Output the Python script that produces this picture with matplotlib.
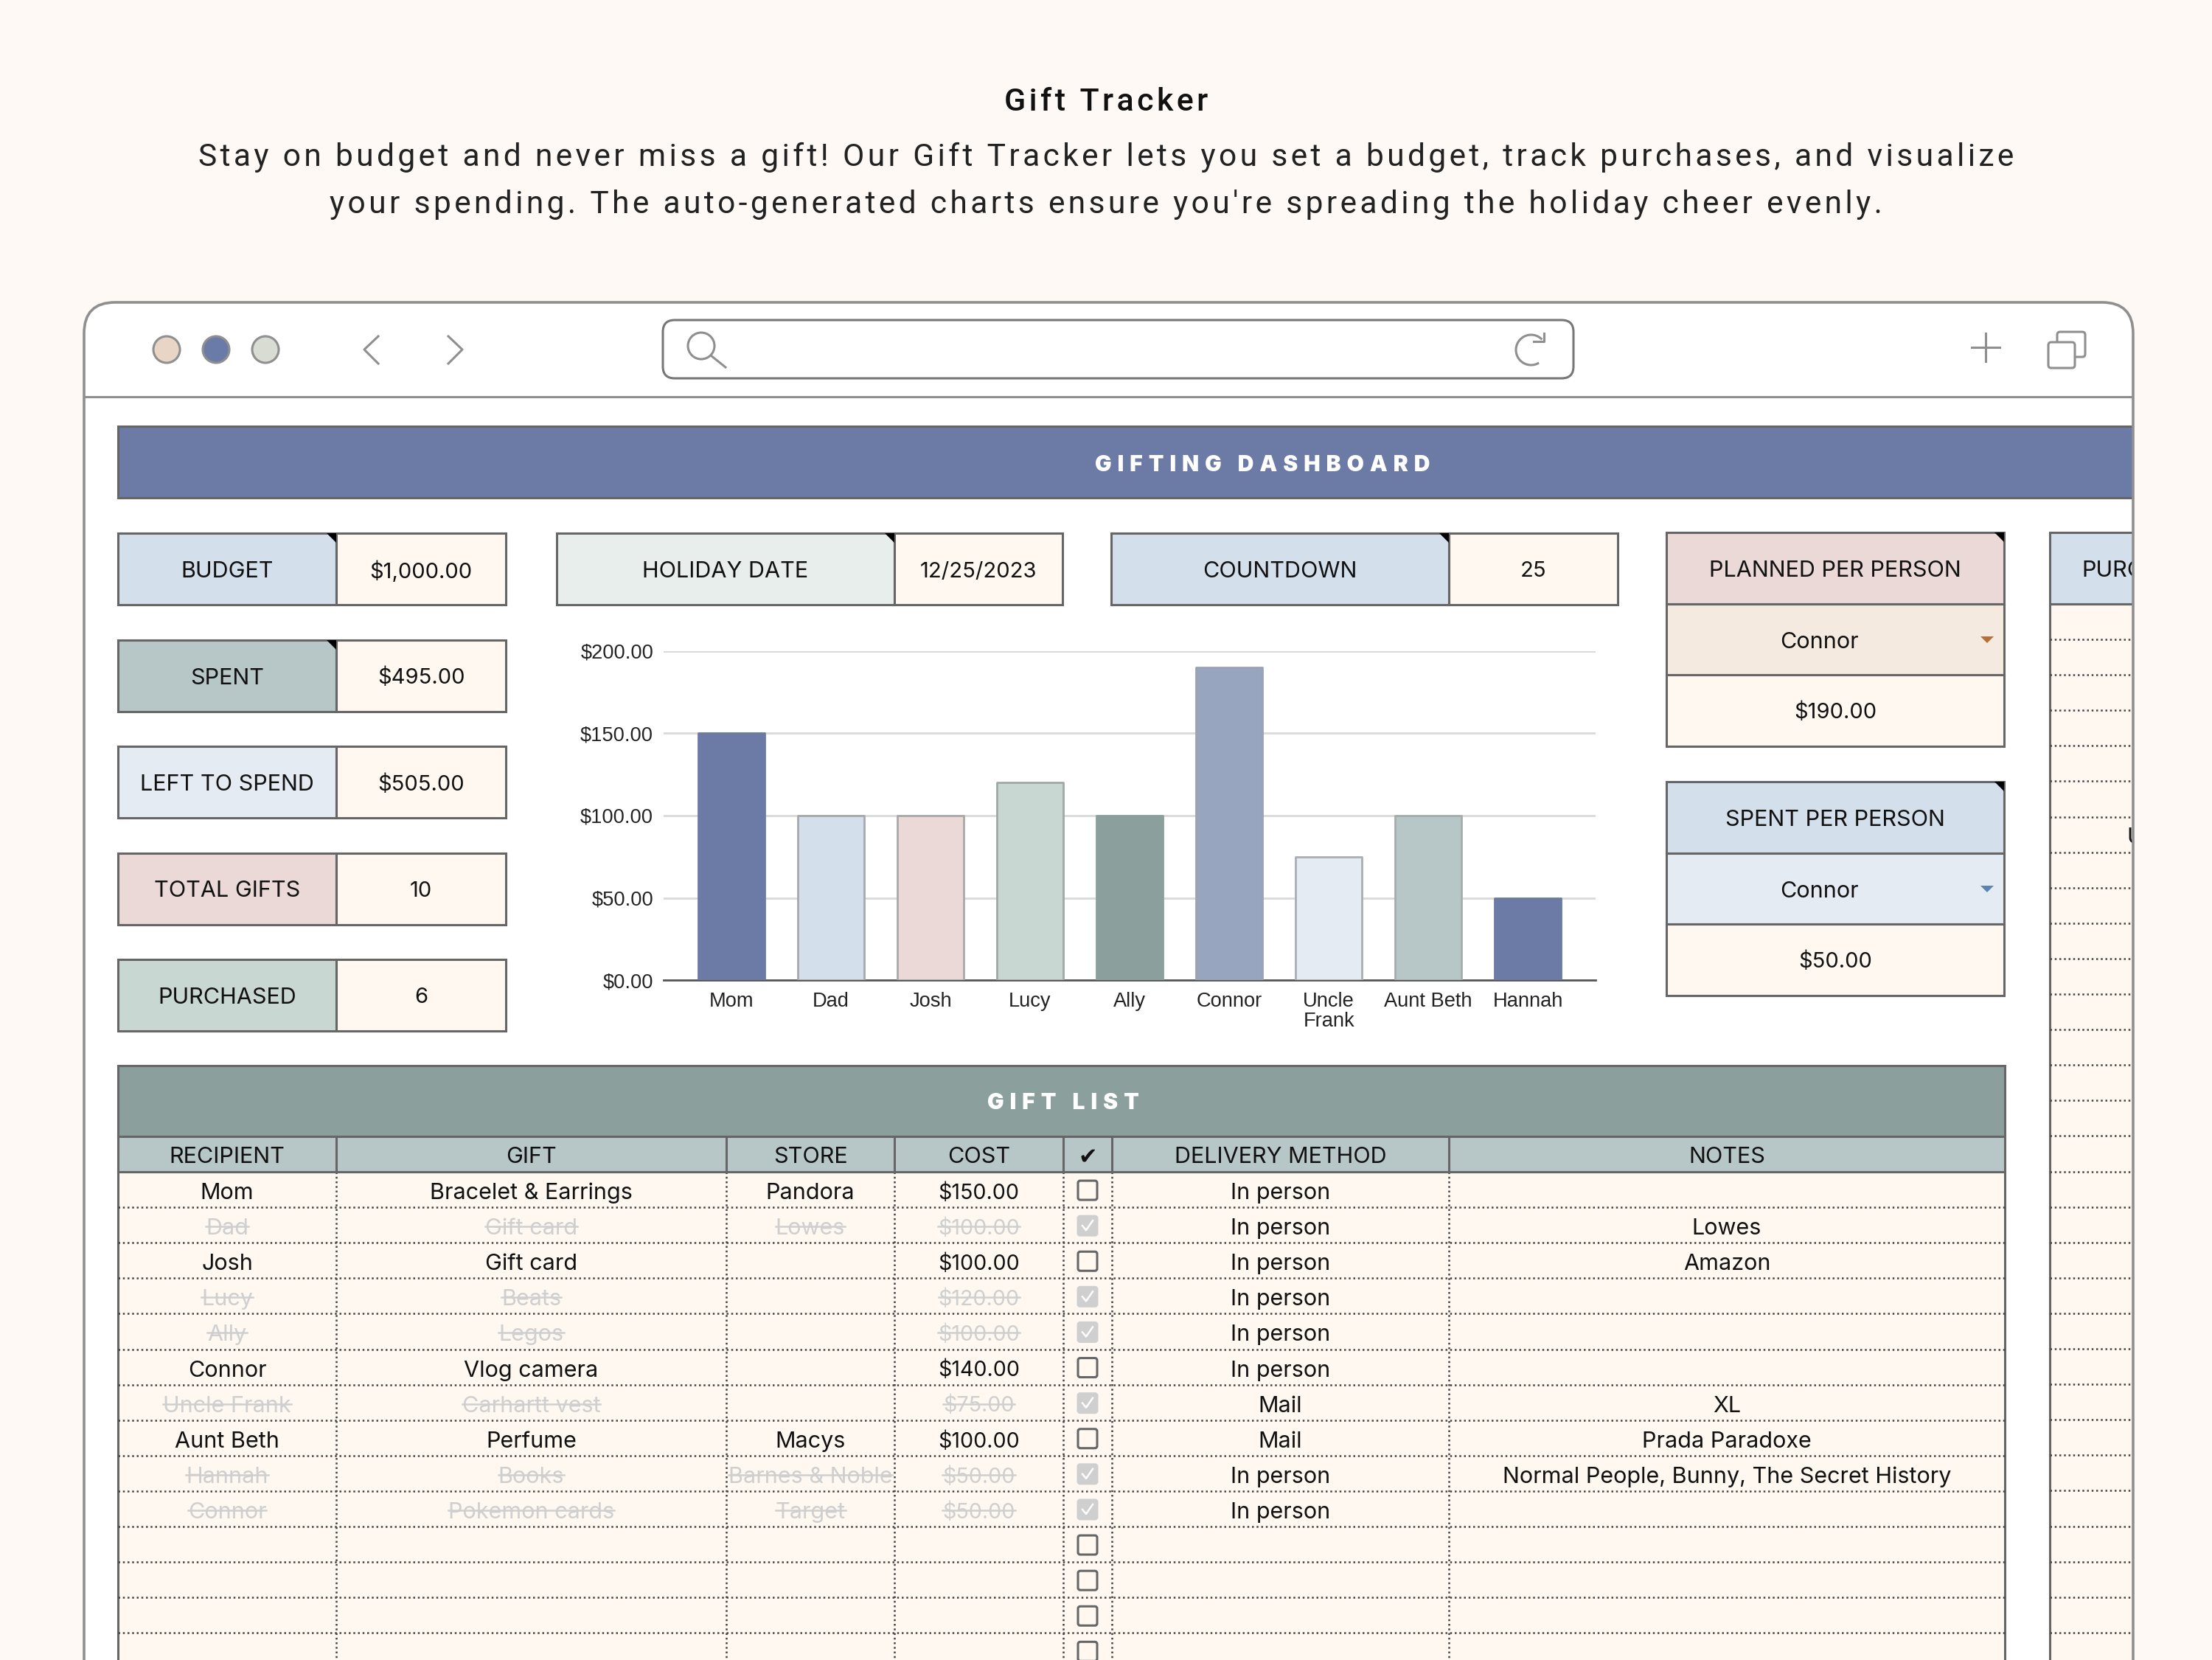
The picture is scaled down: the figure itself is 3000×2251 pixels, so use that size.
import numpy as np
import matplotlib
matplotlib.use("Agg")
import matplotlib.pyplot as plt
from matplotlib.patches import Rectangle, Circle, FancyBboxPatch, Polygon

plt.rcParams['font.family'] = ['Inter', 'DejaVu Sans']

# ---- data ----
people = ["Mom", "Dad", "Josh", "Lucy", "Ally", "Connor", "Uncle\nFrank", "Aunt Beth", "Hannah"]
spent = [150, 100, 100, 120, 100, 190, 75, 100, 50]
bar_colors = ["#6B7BA6", "#D3DFEB", "#EAD9D6", "#C9D7D2", "#8BA09D", "#97A5BF", "#E5EBF3", "#B7C7C7", "#6B7BA6"]
bar_edges = ["#6B7BA6", "#A5A9AC", "#A9A9A9", "#A0A8A5", "#8BA09D", "#9AA3B5", "#A9ADB4", "#A5ADAD", "#6B7BA6"]
y_ticks = [0, 50, 100, 150, 200]

kpi_labels = ["BUDGET", "SPENT", "LEFT TO SPEND", "TOTAL GIFTS", "PURCHASED"]
kpi_values = ["$1,000.00", "$495.00", "$505.00", "10", "6"]
kpi_colors = ["#D3DFEB", "#B7C7C7", "#E5EBF3", "#EAD9D6", "#C9D7D2"]
kpi_flagged = [True, True, False, False, False]

headers = ["RECIPIENT", "GIFT", "STORE", "COST", "\u2714", "DELIVERY METHOD", "NOTES"]
recipients = ["Mom", "Dad", "Josh", "Lucy", "Ally", "Connor", "Uncle Frank", "Aunt Beth", "Hannah", "Connor"]
gifts = ["Bracelet & Earrings", "Gift card", "Gift card", "Beats", "Legos", "Vlog camera", "Carhartt vest",
         "Perfume", "Books", "Pokemon cards"]
stores = ["Pandora", "Lowes", "", "", "", "", "", "Macys", "Barnes & Noble", "Target"]
costs = ["$150.00", "$100.00", "$100.00", "$120.00", "$100.00", "$140.00", "$75.00", "$100.00", "$50.00", "$50.00"]
bought = [0, 1, 0, 1, 1, 0, 1, 0, 1, 1]
delivery = ["In person", "In person", "In person", "In person", "In person", "In person", "Mail", "Mail",
            "In person", "In person"]
notes = ["", "Lowes", "Amazon", "", "", "", "XL", "Prada Paradoxe", "Normal People, Bunny, The Secret History", ""]

# ---- colours and layout (pixels of the 3000x2251 picture) ----
BG = "#FEF9F5"
CREAM = "#FEF8F1"
LINE = "#666666"
WIN = "#8F8F8F"
BLUE = "#6B7BA6"
TEAL = "#8BA09D"
HEAD = "#B7C7C7"
GREY_TEXT = "#CFCFCF"
col_x = [160, 456, 985, 1213, 1442, 1508, 1965, 2719]
row_top = 1589
row_h = 48.1
n_rows = 14

fig = plt.figure(figsize=(15, 11.255), dpi=200, facecolor=BG)
ax = fig.add_axes([0, 0, 1, 1])
ax.set_xlim(0, 3000)
ax.set_ylim(2251, 0)
ax.axis('off')


def tracked(s, n=1):
    # matplotlib has no letter spacing, so hair spaces go between the letters
    return ('\u200a' * n).join(s)


def box(x0, y0, x1, y1, color, lw=1.1, z=2):
    ax.add_patch(Rectangle((x0, y0), x1 - x0, y1 - y0, facecolor=color, edgecolor=LINE, linewidth=lw, zorder=z))


def label(x, y, s, size=11, color="#111111", **kw):
    return ax.text(x, y, s, ha='center', va='center_baseline', fontsize=size, color=color, zorder=5, **kw)


def flag(x, y):
    ax.add_patch(Polygon([(x - 13, y), (x, y), (x, y + 13)], facecolor="black", edgecolor='none', zorder=6))


def struck(x, y, s, size=11):
    t = label(x, y, s, size=size, color=GREY_TEXT)
    bb = t.get_window_extent(fig.canvas.get_renderer())
    ax.plot([bb.x0, bb.x1], [y, y], color=GREY_TEXT, lw=0.9, zorder=6)


def dotted(xs, ys, z=3):
    ax.plot(xs, ys, color="#444444", lw=0.9, ls=(0, (1.0, 1.5)), zorder=z)


# ---- heading above the window ----
head_font = ['Roboto', 'DejaVu Sans']
ax.text(1500, 139, tracked("Gift Tracker"), ha='center', va='center', fontsize=15.5, fontweight='medium', color="#111111", family=head_font)
ax.text(1500, 213, tracked("Stay on budget and never miss a gift! Our Gift Tracker lets you set a budget, track purchases, and visualize"),
        ha='center', va='center', fontsize=15.3, color="#222222", family=head_font)
ax.text(1500, 277, tracked("your spending. The auto-generated charts ensure you're spreading the holiday cheer evenly."),
        ha='center', va='center', fontsize=15.3, color="#222222", family=head_font)

# ---- browser window ----
ax.add_patch(FancyBboxPatch((114, 410), 2779, 2100, boxstyle="round,pad=0,rounding_size=42", facecolor="white", edgecolor='none', zorder=0))
ax.plot([114, 2893], [538, 538], color=WIN, lw=1.1, zorder=1)
for cx, c in zip([226, 293, 360], ["#E8D5C6", "#6B7BA8", "#D8DCD3"]):
    ax.add_patch(Circle((cx, 474), 18, facecolor=c, edgecolor=WIN, linewidth=1.1, zorder=1))
ax.plot([513, 494, 513], [456, 474, 493], color=WIN, lw=1.1, zorder=1)
ax.plot([608, 627, 608], [456, 474, 493], color=WIN, lw=1.1, zorder=1)
ax.add_patch(FancyBboxPatch((899, 434), 1235, 79, boxstyle="round,pad=0,rounding_size=16", facecolor="white", edgecolor="#777777", linewidth=1.1, zorder=1))
ax.add_patch(Circle((951, 469), 18, facecolor='none', edgecolor=WIN, linewidth=1.1, zorder=1))
ax.plot([964, 984], [482, 498], color=WIN, lw=1.1, zorder=1)
theta = np.linspace(1.1, 5.45, 60)
ax.plot(2076.5 + 20.5 * np.cos(theta), 474.5 + 20.5 * np.sin(theta), color=WIN, lw=1.1, zorder=1)
ax.plot([2080, 2094, 2094], [463, 463, 452], color=WIN, lw=1.1, zorder=1)
ax.plot([2674, 2712], [471, 471], color=WIN, lw=1.1, zorder=1)
ax.plot([2693, 2693], [452, 490], color=WIN, lw=1.1, zorder=1)
ax.add_patch(FancyBboxPatch((2790, 450), 38, 34, boxstyle="round,pad=0,rounding_size=4", facecolor="white", edgecolor=WIN, linewidth=1.1, zorder=1))
ax.add_patch(FancyBboxPatch((2778, 464), 36, 35, boxstyle="round,pad=0,rounding_size=4", facecolor="white", edgecolor=WIN, linewidth=1.1, zorder=1))

# ---- dashboard banner ----
box(160, 578, 2950, 675, BLUE)
label(1712, 628, tracked("GIFTING DASHBOARD", 4), size=10.8, color="white", fontweight='black')

# ---- left KPI column ----
for i, (name, val, c, flagged) in enumerate(zip(kpi_labels, kpi_values, kpi_colors, kpi_flagged)):
    y = 723 + i * 144.5
    box(160, y, 456, y + 97, c)
    box(456, y, 686, y + 97, CREAM)
    label(308, y + 49, name)
    label(571, y + 49, val, size=10.5)
    if flagged:
        flag(456, y)

# ---- holiday date and countdown ----
box(755, 723, 1213, 820, "#E8EEEB")
box(1213, 723, 1441, 820, CREAM)
label(984, 772, "HOLIDAY DATE")
label(1327, 772, "12/25/2023", size=10.5)
flag(1213, 723)
box(1507, 723, 1965, 820, "#D3DFEB")
box(1965, 723, 2194, 820, CREAM)
label(1736, 772, "COUNTDOWN")
label(2080, 772, "25", size=10.5)
flag(1965, 723)

# ---- per person panels ----
for y, title, c1, c2, val, tri, cx in [(722, "PLANNED PER PERSON", "#EAD9D6", "#F5EADF", "$190.00", "#B5703A", 867),
                                       (1060, "SPENT PER PERSON", "#D3DFEB", "#E5EBF3", "$50.00", "#5B84B1", 1205)]:
    box(2260, y, 2718, y + 97, c1)
    box(2260, y + 97, 2718, y + 193, c2)
    box(2260, y + 193, 2718, y + 290, CREAM)
    label(2489, y + 49, title)
    label(2467, y + 146, "Connor")
    label(2489, y + 241, val, size=10.5)
    flag(2718, y)
    ax.add_patch(Polygon([(2686, cx - 4), (2704, cx - 4), (2695, cx + 5)], facecolor=tri, edgecolor='none', zorder=6))

# ---- panel cut off by the window edge ----
box(2780, 722, 2950, 819, "#D3DFEB")
box(2780, 819, 2950, 2300, CREAM)
ax.text(2823, 771, "PURCH", ha='left', va='center_baseline', fontsize=11, color="#111111", zorder=5)
ax.text(2884, 1133, "U", ha='left', va='center_baseline', fontsize=11, color="#111111", zorder=5)
for k in range(30):
    y = 867 + k * 48.1
    if y < 2251:
        dotted([2780, 2950], [y, y])

# ---- gift list ----
box(col_x[0], 1445, col_x[-1], 1541, TEAL)
label(1442, 1493, tracked("GIFT LIST", 4), size=10.8, color="white", fontweight='black')
box(col_x[0], 1541, col_x[-1], row_top, HEAD)
ax.add_patch(Rectangle((col_x[0], row_top), col_x[-1] - col_x[0], n_rows * row_h + 40, facecolor=CREAM, edgecolor=LINE, linewidth=1.1, zorder=2))
for x in col_x[1:-1]:
    ax.plot([x, x], [1541, row_top], color=LINE, lw=1.1, zorder=4)
    dotted([x, x], [row_top, 2251])
centers = [(a + b) / 2 for a, b in zip(col_x[:-1], col_x[1:])]
for cx, h in zip(centers, headers):
    if h == "\u2714":
        label(cx, 1566, h, size=11, family='DejaVu Sans', fontweight='bold')
    else:
        label(cx, 1566, h)

for r in range(n_rows):
    y0 = row_top + r * row_h
    yc = y0 + row_h / 2 + 2
    dotted([col_x[0], col_x[-1]], [y0 + row_h, y0 + row_h])
    if r < len(recipients):
        for k, (cx, s) in enumerate(zip(centers[:4], [recipients[r], gifts[r], stores[r], costs[r]])):
            size = 10.3 if k == 3 else 11
            if s:
                if bought[r]:
                    struck(cx, yc, s, size)
                else:
                    label(cx, yc, s, size=size)
        label(centers[5], yc, delivery[r])
        if notes[r]:
            label(centers[6], yc, notes[r])
    done = r < len(bought) and bought[r]
    ax.add_patch(FancyBboxPatch((centers[4] - 13, yc - 14), 26, 26, boxstyle="round,pad=0,rounding_size=3",
                                facecolor="#CFCFCF" if done else CREAM, edgecolor="#CFCFCF" if done else LINE,
                                linewidth=1.1, zorder=4))
    if done:
        ax.plot([centers[4] - 7, centers[4] - 2, centers[4] + 7], [yc - 1, yc + 5, yc - 8], color="white", lw=0.9, zorder=5)

# ---- bar chart ----
ax2 = fig.add_axes([900 / 3000, 1 - 1329 / 2251, 1264 / 3000, 446 / 2251])
ax2.patch.set_alpha(0)
x = np.arange(len(people))
ax2.bar(x, spent, width=0.67, color=bar_colors, edgecolor=bar_edges, linewidth=1.0, joinstyle='round', zorder=3)
ax2.set_xlim(-0.68, 8.68)
ax2.set_ylim(0, 200)
ax2.set_xticks(x)
ax2.set_xticklabels(people, family='Liberation Sans', fontsize=9.8, color="#222222", linespacing=1.05, va='top')
ax2.set_yticks(y_ticks)
ax2.set_yticklabels(["$%d.00" % v for v in y_ticks], family='Liberation Sans', fontsize=9.8, color="#222222")
ax2.tick_params(axis='x', length=0, pad=5.7)
ax2.tick_params(axis='y', length=0, pad=5)
ax2.grid(axis='y', color="#D9D9D9", lw=1.0, zorder=0)
ax2.set_axisbelow(True)
for s in ['top', 'right', 'left']:
    ax2.spines[s].set_visible(False)
ax2.spines['bottom'].set_color("#555555")
ax2.spines['bottom'].set_linewidth(1.0)

# ---- window edge goes over everything that runs off to the right ----
ax.add_patch(Rectangle((2894, 500), 110, 1800, facecolor=BG, edgecolor='none', zorder=10))
ax.add_patch(FancyBboxPatch((114, 410), 2779, 2100, boxstyle="round,pad=0,rounding_size=42", facecolor='none', edgecolor=WIN, linewidth=1.3, zorder=11))

fig.savefig("out.png", dpi=200, facecolor=BG)
